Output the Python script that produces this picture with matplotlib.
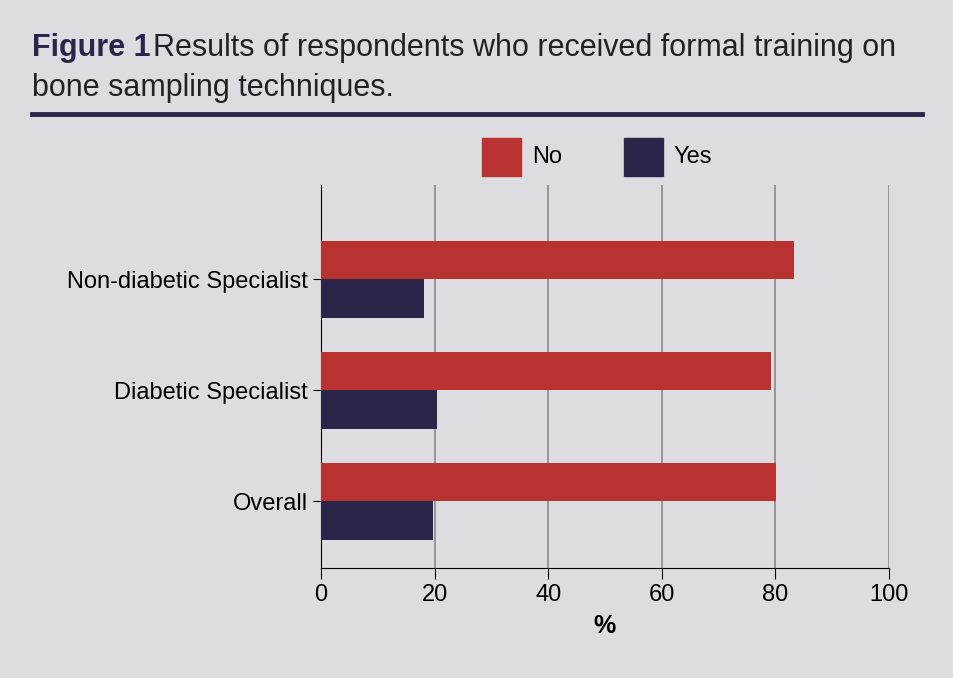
import matplotlib
matplotlib.use("Agg")
import matplotlib.pyplot as plt
from matplotlib.patches import Rectangle
from matplotlib.lines import Line2D

plt.rcParams['font.family'] = ['Liberation Sans Narrow', 'Liberation Sans', 'DejaVu Sans']

categories = ["Overall", "Diabetic Specialist", "Non-diabetic Specialist"]
no_vals = [80.1, 79.2, 83.3]
yes_vals = [19.7, 20.4, 18.1]
xticks = [0, 20, 40, 60, 80, 100]

bg = '#dddce1'
red = '#b83232'
navy = '#2b2649'

fig = plt.figure(figsize=(9.54, 6.78), dpi=100, facecolor=bg)
ax = fig.add_axes([321/954, 1-568/678, (889-321)/954, (568-185)/678], facecolor=bg)

pos = list(range(len(categories)))
h = 0.35
ax.barh([p + h/2 for p in pos], no_vals, height=h, color=red, zorder=3)
ax.barh([p - h/2 for p in pos], yes_vals, height=h, color=navy, zorder=3)

ax.set_xlim(0, 100)
ax.set_ylim(-0.6, 2.85)
ax.set_xticks(xticks)
ax.set_xticklabels([str(t) for t in xticks], fontsize=17)
ax.set_yticks(pos)
ax.set_yticklabels(categories, fontsize=17)
ax.tick_params(axis='y', length=6, color='black')
ax.tick_params(axis='x', length=8, color='black')
ax.xaxis.grid(True, color='#8a8a8a', linewidth=1.2, zorder=0)
for s in ['top', 'right']:
    ax.spines[s].set_visible(False)
for s in ['left', 'bottom']:
    ax.spines[s].set_color('black')
ax.set_xlabel('%', fontsize=18, fontweight='bold', labelpad=6)

# legend
fig.patches.append(Rectangle((482/954, 1-176/678), 39/954, 38/678, transform=fig.transFigure, color=red))
fig.patches.append(Rectangle((624/954, 1-176/678), 39/954, 38/678, transform=fig.transFigure, color=navy))
fig.text(532/954, 1-157/678, 'No', fontsize=17, va='center')
fig.text(673/954, 1-157/678, 'Yes', fontsize=17, va='center')

# title
fig.text(32/954, 1-48/678, 'Figure 1', fontsize=22, fontweight='bold', color='#2b2649', va='center')
fig.text(153/954, 1-48/678, 'Results of respondents who received formal training on', fontsize=22, color='#222222', va='center')
fig.text(32/954, 1-88/678, 'bone sampling techniques.', fontsize=22, color='#222222', va='center')
fig.add_artist(Line2D([32/954, 922/954], [1-114/678, 1-114/678], transform=fig.transFigure, color=navy, linewidth=3.5))

fig.savefig('out.png', dpi=100, facecolor=bg)
